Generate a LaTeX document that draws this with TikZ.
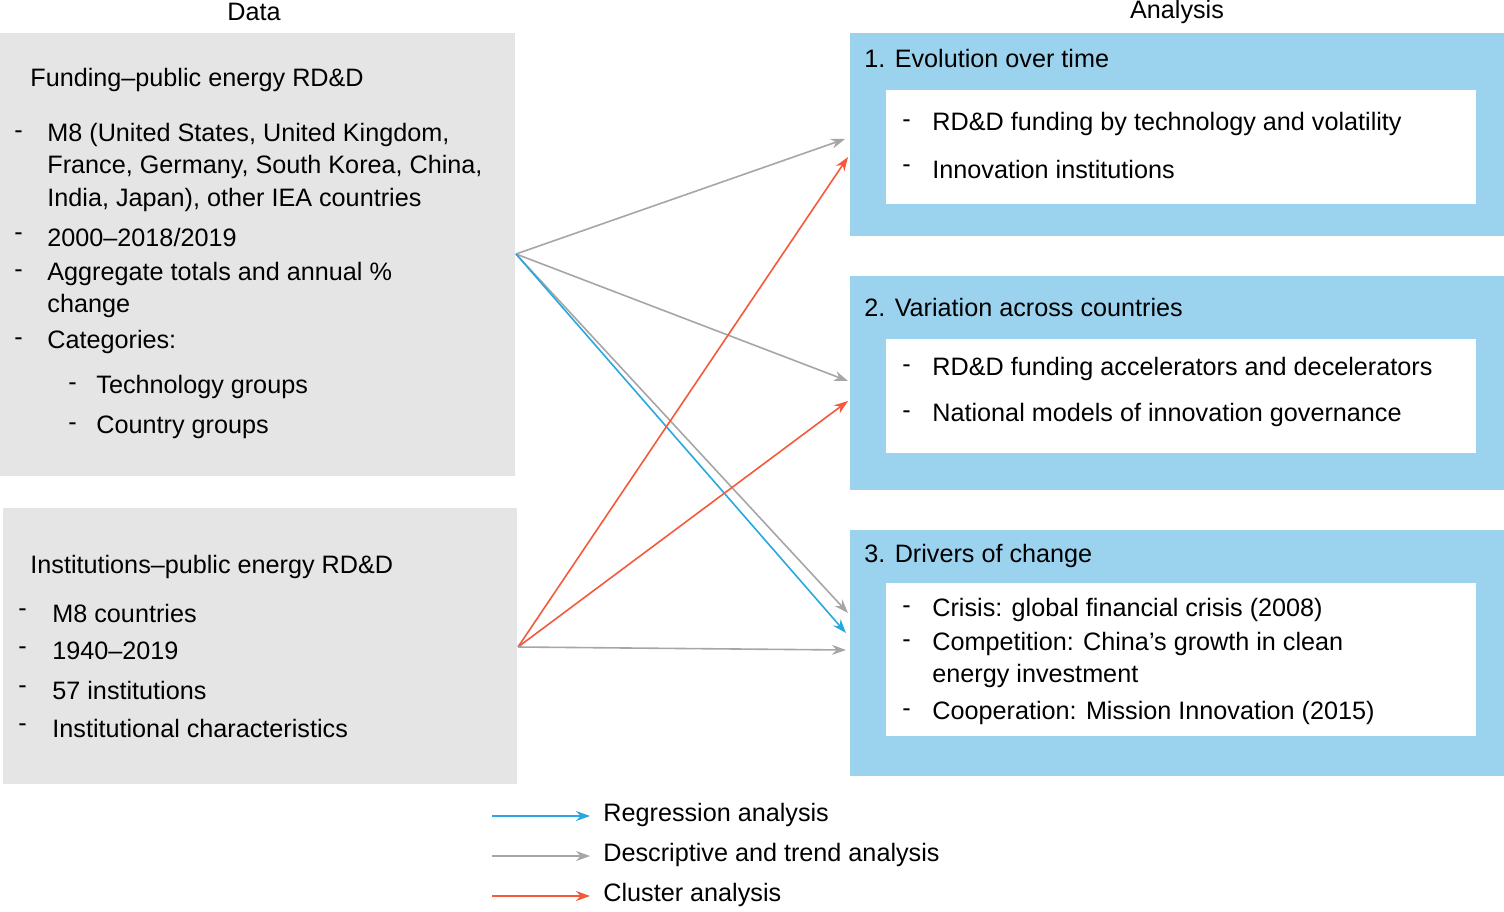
\documentclass[tikz,border=0pt]{standalone}
\usepackage{fontspec}
\setmainfont{Liberation Sans}
\usetikzlibrary{arrows.meta}
\definecolor{gbox}{HTML}{E5E5E5}
\definecolor{bbox}{HTML}{9BD3EE}
\definecolor{cblue}{HTML}{29A8E0}
\definecolor{cgray}{HTML}{A6A6A6}
\definecolor{cred}{HTML}{F4593A}
\tikzset{
 t/.style={anchor=west,inner sep=0pt,font=\fontsize{12.6}{15}\selectfont},
 h/.style={anchor=center,inner sep=0pt,font=\fontsize{12.6}{15}\selectfont},
 arr/.style={-{Stealth[length=7pt,width=5pt]},line width=0.8pt},
}
\begin{document}
\begin{tikzpicture}[x=0.5pt,y=-0.5pt]
\useasboundingbox (0,0) rectangle (1504,911);
\fill[gbox] (0,33) rectangle (515,476);
\fill[gbox] (3,508) rectangle (517,784);
\fill[bbox] (850,33) rectangle (1504,236);
\fill[bbox] (850,276) rectangle (1504,490);
\fill[bbox] (850,530) rectangle (1504,776);
\fill[white] (886,90) rectangle (1476,204);
\fill[white] (886,339) rectangle (1476,453);
\fill[white] (886,583) rectangle (1476,736);
\node[h] (dl) at (254,12) {Data};
\node[h] (al) at (1177,12) {Analysis};
% data 1
\node[t] (f0) at (30,80) {Funding–public energy RD\&D};
\node[t] (f1d) at (14,135) {-};
\node[t] (f1) at (47,135) {M8 (United States, United Kingdom,};
\node[t] (f1b) at (47,167) {France, Germany, South Korea, China,};
\node[t] (f1c) at (47,200) {India, Japan), other IEA countries};
\node[t] (f2d) at (14,237) {-};
\node[t] (f2) at (47,237) {2000–2018/2019};
\node[t] (f3d) at (14,274) {-};
\node[t] (f3) at (47,274) {Aggregate totals and annual \%};
\node[t] (f3b) at (47,306) {change};
\node[t] (f4d) at (14,342) {-};
\node[t] (f4) at (47,342) {Categories:};
\node[t] (f5d) at (68,387) {-};
\node[t] (f5) at (96,387) {Technology groups};
\node[t] (f6d) at (68,427) {-};
\node[t] (f6) at (96,427) {Country groups};
% data 2
\node[t] (i0) at (30,567) {Institutions–public energy RD\&D};
\node[t] (i1d) at (18,613) {-};
\node[t] (i1) at (52,613) {M8 countries};
\node[t] (i2d) at (18,651) {-};
\node[t] (i2) at (52,651) {1940–2019};
\node[t] (i3d) at (18,690) {-};
\node[t] (i3) at (52,690) {57 institutions};
\node[t] (i4d) at (18,728) {-};
\node[t] (i4) at (52,728) {Institutional characteristics};
% analysis
\node[t] (a1) at (864,58) {1. Evolution over time};
\node[t] (a1ad) at (902,124) {-};
\node[t] (a1a) at (932,124) {RD\&D funding by technology and volatility};
\node[t] (a1bd) at (902,169) {-};
\node[t] (a1b) at (932,169) {Innovation institutions};
\node[t] (a2) at (864,307) {2. Variation across countries};
\node[t] (a2ad) at (902,369) {-};
\node[t] (a2a) at (932,369) {RD\&D funding accelerators and decelerators};
\node[t] (a2bd) at (902,415) {-};
\node[t] (a2b) at (932,415) {National models of innovation governance};
\node[t] (a3) at (864,556) {3. Drivers of change};
\node[t] (a3ad) at (902,610) {-};
\node[t] (a3a) at (932,610) {Crisis: global financial crisis (2008)};
\node[t] (a3bd) at (902,644) {-};
\node[t] (a3b) at (932,644) {Competition: China’s growth in clean};
\node[t] (a3c) at (932,676) {energy investment};
\node[t] (a3dd) at (902,713) {-};
\node[t] (a3d) at (932,713) {Cooperation: Mission Innovation (2015)};
% arrows
\coordinate (s1) at (516,254);
\coordinate (s2) at (518,647);
\coordinate (e1g) at (845,139);
\coordinate (e1r) at (848,157);
\coordinate (e2g) at (848,381);
\coordinate (e2r) at (848,401);
\coordinate (e3g) at (848,613);
\coordinate (e3b) at (846,633);
\coordinate (e3g2) at (846,650);
\draw[arr,cgray] (s1) -- (e1g);
\draw[arr,cgray] (s1) -- (e2g);
\draw[arr,cgray] (s1) -- (e3g);
\draw[arr,cblue] (s1) -- (e3b);
\draw[arr,cred] (s2) -- (e1r);
\draw[arr,cred] (s2) -- (e2r);
\draw[arr,cgray] (s2) -- (e3g2);
% legend
\coordinate (l1a) at (492,816); \coordinate (l1b) at (590,816);
\coordinate (l2a) at (492,856); \coordinate (l2b) at (590,856);
\coordinate (l3a) at (492,896); \coordinate (l3b) at (590,896);
\draw[arr,cblue] (l1a) -- (l1b);
\draw[arr,cgray] (l2a) -- (l2b);
\draw[arr,cred] (l3a) -- (l3b);
\node[t] (lg1) at (603,815) {Regression analysis};
\node[t] (lg2) at (603,855) {Descriptive and trend analysis};
\node[t] (lg3) at (603,895) {Cluster analysis};
\end{tikzpicture}
\end{document}
